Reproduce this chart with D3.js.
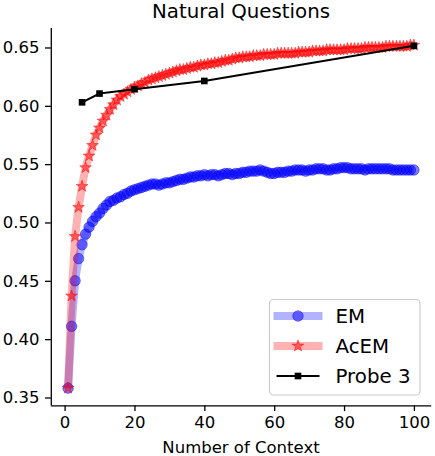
<!DOCTYPE html>
<html>
<head>
<meta charset="utf-8">
<script src="https://cdn.jsdelivr.net/npm/d3@7"></script>
<style>
  html, body { margin: 0; padding: 0; background: #fff; }
  svg { display: block; font-family: "DejaVu Sans", sans-serif; }
</style>
</head>
<body>
<svg id="chart"></svg>
<script>
// context counts 1..100
const contexts = Array.from({ length: 100 }, (_, i) => i + 1);

const emValues = [
  0.358, 0.411, 0.450, 0.469, 0.481, 0.490, 0.496, 0.501, 0.505, 0.508,
  0.512, 0.515, 0.518, 0.519, 0.521, 0.522, 0.524, 0.525, 0.527, 0.528,
  0.529, 0.530, 0.531, 0.532, 0.533, 0.533, 0.532, 0.533, 0.534, 0.534,
  0.535, 0.536, 0.537, 0.537, 0.538, 0.539, 0.539, 0.540, 0.540, 0.541,
  0.540, 0.541, 0.541, 0.540, 0.541, 0.542, 0.542, 0.541, 0.542, 0.542,
  0.543, 0.543, 0.544, 0.544, 0.544, 0.545, 0.544, 0.543, 0.542, 0.542,
  0.543, 0.543, 0.543, 0.544, 0.544, 0.545, 0.545, 0.545, 0.544, 0.545,
  0.545, 0.546, 0.546, 0.546, 0.545, 0.545, 0.546, 0.546, 0.547, 0.547,
  0.547, 0.546, 0.546, 0.546, 0.546, 0.545, 0.546, 0.546, 0.546, 0.546,
  0.546, 0.546, 0.546, 0.545, 0.545, 0.545, 0.545, 0.545, 0.545, 0.545
];

const acemValues = [
  0.358, 0.437, 0.488, 0.513, 0.531, 0.547, 0.557, 0.566, 0.575, 0.581,
  0.587, 0.592, 0.597, 0.601, 0.605, 0.608, 0.610, 0.612, 0.614, 0.616,
  0.617, 0.619, 0.620, 0.622, 0.623, 0.624, 0.625, 0.626, 0.627, 0.628,
  0.629, 0.630, 0.631, 0.631, 0.632, 0.633, 0.633, 0.634, 0.635, 0.635,
  0.636, 0.636, 0.637, 0.637, 0.638, 0.639, 0.639, 0.640, 0.641, 0.641,
  0.642, 0.642, 0.642, 0.643, 0.643, 0.643, 0.644, 0.644, 0.644, 0.644,
  0.645, 0.645, 0.645, 0.645, 0.645, 0.645, 0.646, 0.646, 0.646, 0.646,
  0.647, 0.647, 0.647, 0.647, 0.648, 0.648, 0.648, 0.648, 0.648, 0.648,
  0.649, 0.649, 0.649, 0.649, 0.649, 0.650, 0.650, 0.650, 0.650, 0.650,
  0.650, 0.651, 0.651, 0.651, 0.651, 0.651, 0.651, 0.651, 0.652, 0.652
];

const probeContexts = [5, 10, 20, 40, 100];
const probeValues = [0.603, 0.6105, 0.6142, 0.6213, 0.6514];

const xTicks = [0, 20, 40, 60, 80, 100];
const yTicks = [0.35, 0.40, 0.45, 0.50, 0.55, 0.60, 0.65];
const seriesNames = ["EM", "AcEM", "Probe 3"];

const width = 435, height = 456;
const svg = d3.select("#chart").attr("width", width).attr("height", height);

const x = d3.scaleLinear().domain([-3.95, 104.95]).range([50.8, 431.2]);
const y = d3.scaleLinear().domain([0.3433, 0.6667]).range([405.3, 28]);

const tickFont = 16.5;

// axes (left + bottom spines only)
const xAxis = svg.append("g")
    .attr("transform", `translate(0,${y.range()[0]})`)
    .call(d3.axisBottom(x).tickValues(xTicks).tickSize(5.8).tickPadding(5.5).tickFormat(d3.format("d")));
const yAxis = svg.append("g")
    .attr("transform", `translate(${x.range()[0]},0)`)
    .call(d3.axisLeft(y).tickValues(yTicks).tickSize(5.8).tickPadding(5.5).tickFormat(d3.format(".2f")));

[xAxis, yAxis].forEach(g => {
    g.select(".domain").attr("stroke", "#000").attr("stroke-width", 1.3);
    g.selectAll(".tick line").attr("stroke", "#000").attr("stroke-width", 1.3);
    g.selectAll(".tick text")
        .attr("fill", "#000")
        .style("font-size", tickFont + "px")
        .style("font-family", "DejaVu Sans");
});
xAxis.select(".domain").attr("d", `M${x.range()[0]},0.5H${x.range()[1]}`);
yAxis.select(".domain").attr("d", `M0.5,${y.range()[0]}V${y.range()[1]}`);

svg.append("text")
    .attr("x", 241)
    .attr("y", 453)
    .attr("text-anchor", "middle")
    .style("font-size", "16.5px")
    .text("Number of Context");

svg.append("text")
    .attr("x", 241)
    .attr("y", 17.5)
    .attr("text-anchor", "middle")
    .style("font-size", "19.8px")
    .text("Natural Questions");

const line = d3.line()
    .x((d, i) => x(d[0]))
    .y(d => y(d[1]));

const emData = contexts.map((c, i) => [c, emValues[i]]);
const acemData = contexts.map((c, i) => [c, acemValues[i]]);
const probeData = probeContexts.map((c, i) => [c, probeValues[i]]);

const star = d3.symbol().type(d3.symbolStar).size(42);
const square = d3.symbol().type(d3.symbolSquare).size(44);

// EM
svg.append("path")
    .datum(emData)
    .attr("d", line)
    .attr("fill", "none")
    .attr("stroke", "blue")
    .attr("stroke-opacity", 0.3)
    .attr("stroke-width", 8)
    .attr("stroke-linejoin", "round")
    .attr("stroke-linecap", "butt");

svg.append("g").selectAll("circle")
    .data(emData)
    .join("circle")
    .attr("cx", d => x(d[0]))
    .attr("cy", d => y(d[1]))
    .attr("r", 5.2)
    .attr("fill", "blue")
    .attr("fill-opacity", 0.5)
    .attr("stroke", "blue")
    .attr("stroke-opacity", 0.5)
    .attr("stroke-width", 1);

// AcEM
svg.append("path")
    .datum(acemData)
    .attr("d", line)
    .attr("fill", "none")
    .attr("stroke", "red")
    .attr("stroke-opacity", 0.3)
    .attr("stroke-width", 8)
    .attr("stroke-linejoin", "round");

svg.append("g").selectAll("path")
    .data(acemData)
    .join("path")
    .attr("transform", d => `translate(${x(d[0])},${y(d[1])})`)
    .attr("d", star)
    .attr("fill", "red")
    .attr("fill-opacity", 0.5)
    .attr("stroke", "red")
    .attr("stroke-opacity", 0.5)
    .attr("stroke-width", 1);

// Probe 3
svg.append("path")
    .datum(probeData)
    .attr("d", line)
    .attr("fill", "none")
    .attr("stroke", "#000")
    .attr("stroke-width", 2);

svg.append("g").selectAll("path")
    .data(probeData)
    .join("path")
    .attr("transform", d => `translate(${x(d[0])},${y(d[1])})`)
    .attr("d", square)
    .attr("fill", "#000");

// legend
const legend = svg.append("g");
legend.append("rect")
    .attr("x", 269.5).attr("y", 299.5)
    .attr("width", 150.5).attr("height", 95.5)
    .attr("rx", 4)
    .attr("fill", "#fff").attr("fill-opacity", 0.8)
    .attr("stroke", "#cccccc").attr("stroke-width", 1.2);

const legendY = d3.scalePoint().domain(seriesNames).range([316, 376]);
const handleX0 = 273.5, handleX1 = 322.5, handleMid = (handleX0 + handleX1) / 2;

const emRow = legend.append("g").attr("transform", `translate(0,${legendY("EM")})`);
emRow.append("line").attr("x1", handleX0).attr("x2", handleX1)
    .attr("stroke", "blue").attr("stroke-opacity", 0.3).attr("stroke-width", 8);
emRow.append("circle").attr("cx", handleMid).attr("r", 5.2)
    .attr("fill", "blue").attr("fill-opacity", 0.5)
    .attr("stroke", "blue").attr("stroke-opacity", 0.5);

const acRow = legend.append("g").attr("transform", `translate(0,${legendY("AcEM")})`);
acRow.append("line").attr("x1", handleX0).attr("x2", handleX1)
    .attr("stroke", "red").attr("stroke-opacity", 0.3).attr("stroke-width", 8);
acRow.append("path").attr("transform", `translate(${handleMid},0)`).attr("d", star)
    .attr("fill", "red").attr("fill-opacity", 0.5)
    .attr("stroke", "red").attr("stroke-opacity", 0.5);

const prRow = legend.append("g").attr("transform", `translate(0,${legendY("Probe 3")})`);
prRow.append("line").attr("x1", 276.5).attr("x2", 319.5)
    .attr("stroke", "#000").attr("stroke-width", 2);
prRow.append("path").attr("transform", `translate(${handleMid},0)`).attr("d", square)
    .attr("fill", "#000");

legend.selectAll("text.lbl")
    .data(seriesNames)
    .join("text")
    .attr("class", "lbl")
    .attr("x", 335.5)
    .attr("y", d => legendY(d) + 7.2)
    .style("font-size", "19.8px")
    .text(d => d);
</script>
</body>
</html>
